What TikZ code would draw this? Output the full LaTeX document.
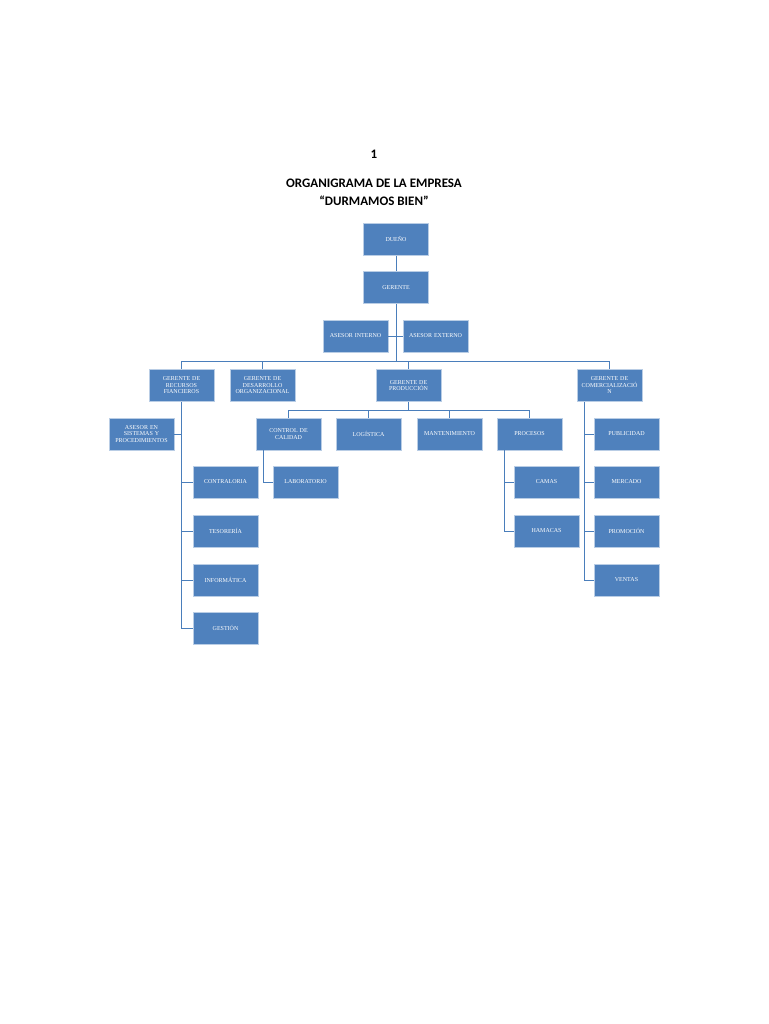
\documentclass[tikz,border=0pt]{standalone}
\usepackage{fontspec}
\setmainfont{Liberation Serif}
\newfontfamily\titlefont{Carlito}
\definecolor{boxblue}{HTML}{4F81BD}
\definecolor{boxedge}{HTML}{B9CDE5}
\definecolor{linkblue}{HTML}{4A7EBB}
\begin{document}
\begin{tikzpicture}[x=1pt,y=-1pt,
  ob/.style={draw=boxedge,line width=0.6pt,fill=boxblue,minimum width=65pt,minimum height=32pt,inner sep=1pt,align=center,text width=63pt,font=\fontsize{6}{6.5}\selectfont,text=white},
  lk/.style={draw=linkblue,line width=1pt}]
\useasboundingbox (0,0) rectangle (768,1024);
\node[font=\titlefont\bfseries\fontsize{13}{15}\selectfont] (num) at (374,154) {1};
\node[font=\titlefont\bfseries\fontsize{13}{18}\selectfont,align=center] (tit) at (374,192) {ORGANIGRAMA DE LA EMPRESA\\“DURMAMOS BIEN”};
\node[ob] (due) at (396,239.5) {DUEÑO};
\node[ob] (ger) at (396,287.5) {GERENTE};
\node[ob] (ai) at (355.5,336) {ASESOR INTERNO};
\node[ob] (ae) at (435.5,336) {ASESOR EXTERNO};
\node[ob] (grf) at (181.5,385.5) {GERENTE DE\\RECURSOS\\FIANCIEROS};
\node[ob] (gdo) at (262.5,385.5) {GERENTE DE\\DESARROLLO\\ORGANIZACIONAL};
\node[ob] (gp) at (408.5,385.5) {GERENTE DE\\PRODUCCIÓN};
\node[ob] (gc) at (609.5,385.5) {GERENTE DE\\COMERCIALIZACIÓ\\N};
\node[ob] (asp) at (141.5,434) {ASESOR EN\\SISTEMAS Y\\PROCEDIMIENTOS};
\node[ob] (cc) at (288.5,434) {CONTROL DE\\CALIDAD};
\node[ob] (log) at (368.5,434) {LOGÍSTICA};
\node[ob] (man) at (449.5,434) {MANTENIMIENTO};
\node[ob] (pro) at (529.5,434) {PROCESOS};
\node[ob] (pub) at (626.5,434) {PUBLICIDAD};
\node[ob] (con) at (225.5,482) {CONTRALORIA};
\node[ob] (tes) at (225.5,531) {TESORERÍA};
\node[ob] (inf) at (225.5,580) {INFORMÁTICA};
\node[ob] (ges) at (225.5,628) {GESTIÓN};
\node[ob] (lab) at (305.5,482) {LABORATORIO};
\node[ob] (cam) at (546.5,482) {CAMAS};
\node[ob] (ham) at (546.5,531) {HAMACAS};
\node[ob] (mer) at (626.5,482) {MERCADO};
\node[ob] (prm) at (626.5,531) {PROMOCIÓN};
\node[ob] (ven) at (626.5,580) {VENTAS};
% links
\draw[lk] (due.south) -- (ger.north);
\draw[lk] (ger.south) -- (396,361);
\draw[lk] (ai.east) -- (ae.west);
\draw[lk] (181.5,361) -- (609.5,361);
\foreach \n in {grf,gdo,gp,gc} \draw[lk] (\n.north |- 0,361) -- (\n.north);
\draw[lk] (gp.south) -- (408.5,410);
\draw[lk] (288.5,410) -- (529.5,410);
\foreach \n in {cc,log,man,pro} \draw[lk] (\n.north |- 0,410) -- (\n.north);
\draw[lk] (grf.south) -- (181.5,628) -- (ges.west);
\draw[lk] (asp.east) -- (181.5,434);
\foreach \n in {con,tes,inf} \draw[lk] (181.5,0 |- \n.west) -- (\n.west);
\draw[lk] (263,450) -- (263,482) -- (lab.west);
\draw[lk] (504,450) -- (504,531) -- (ham.west);
\draw[lk] (504,482) -- (cam.west);
\draw[lk] (584,402) -- (584,580) -- (ven.west);
\foreach \n in {pub,mer,prm} \draw[lk] (584,0 |- \n.west) -- (\n.west);
\end{tikzpicture}
\end{document}
